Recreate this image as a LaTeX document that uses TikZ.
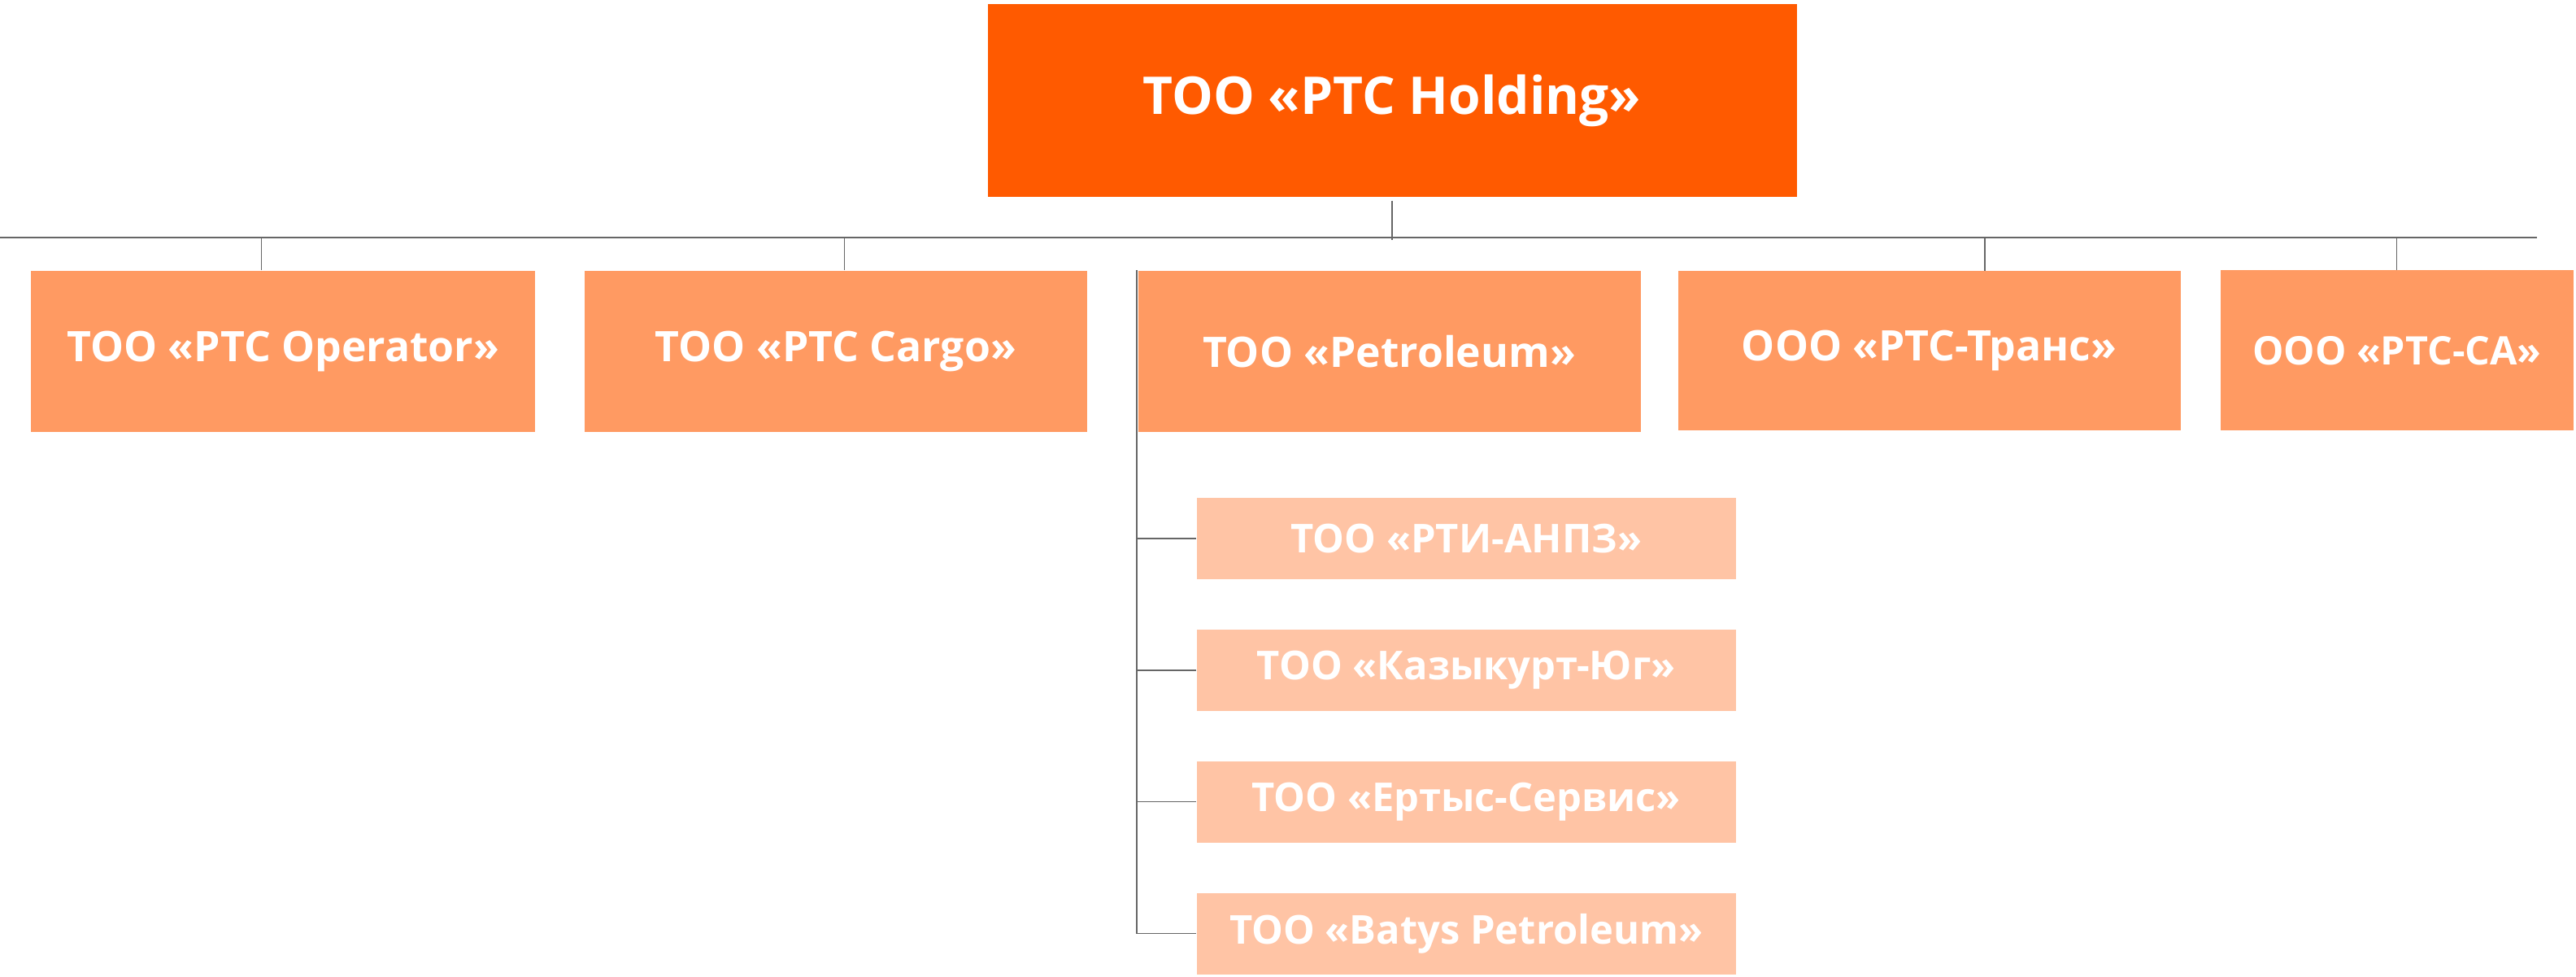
\documentclass[tikz,border=0pt]{standalone}
\usepackage{fontspec}
\setmainfont{Open Sans}
\definecolor{holdor}{HTML}{FF5A00}
\definecolor{firmor}{HTML}{FF9A62}
\definecolor{subor}{HTML}{FFC4A5}
\definecolor{linegray}{HTML}{666666}
\tikzset{
  firm/.style={fill=firmor,text=white,font=\bfseries\fontsize{14.7}{17}\selectfont,
    minimum width=6.18cm,minimum height=1.98cm,inner sep=0pt},
  subfirm/.style={fill=subor,text=white,font=\bfseries\fontsize{13.9}{17}\selectfont,
    minimum width=6.63cm,minimum height=1.0cm,inner sep=0pt},
  link/.style={draw=linegray,line width=0.5pt},
  bus/.style={draw=linegray,line width=0.6pt}
}
\begin{document}
\begin{tikzpicture}
\fill[white] (0,0) rectangle (31.68,-12);
\useasboundingbox (0,0) rectangle (31.68,-12);
\node[fill=holdor,text=white,font=\bfseries\fontsize{18.2}{21}\selectfont,
  minimum width=9.95cm,minimum height=2.37cm,inner sep=0pt] (hold) at (17.12,-1.235) {ТОО «PTC Holding»};
\node[firm,minimum width=6.2cm] (oper) at (3.482,-4.319) {ТОО «PTC Operator»};
\node[firm] (cargo) at (10.279,-4.32) {ТОО «PTC Cargo»};
\node[firm] (petr) at (17.085,-4.317) {ТОО «Petroleum»};
\node[firm,minimum height=1.96cm] (trans) at (23.725,-4.312) {ООО «РТС-Транс»};
\node[firm,minimum width=4.343cm,minimum height=1.97cm,font=\bfseries\fontsize{13.75}{17}\selectfont] (ca) at (29.479,-4.307) {ООО «РТС-СА»};
\foreach \nm/\txt [count=\i] in {anpz/{ТОО «РТИ-АНПЗ»},kazy/{ТОО «Казыкурт-Юг»},
    ertis/{ТОО «Ертыс-Сервис»},batys/{ТОО «Batys Petroleum»}}
  \node[subfirm] (\nm) at (18.033,{-6.618-1.619*(\i-1)}) {\txt};
\coordinate (busL) at (0,-2.917);
\coordinate (busR) at (31.196,-2.917);
\draw[bus] (busL) -- (busR);
\draw[link,shorten <=0.04cm] (hold.south) -- ([yshift=-0.03cm]hold.south |- busL);
\foreach \nm/\x in {oper/3.214,cargo/10.384,trans/24.41,ca/29.475}{
  \coordinate (tap\nm) at (\x,-2.917);
  \draw[link] (tap\nm) -- (tap\nm |- \nm.north);
}
\draw[link] ([xshift=-0.01cm]petr.north west) -- ([xshift=-0.01cm]petr.north west |- batys.west);
\foreach \nm in {anpz,kazy,ertis,batys}
  \draw[link] ([xshift=-0.01cm]petr.west |- \nm.west) -- (\nm.west);
\end{tikzpicture}
\end{document}
